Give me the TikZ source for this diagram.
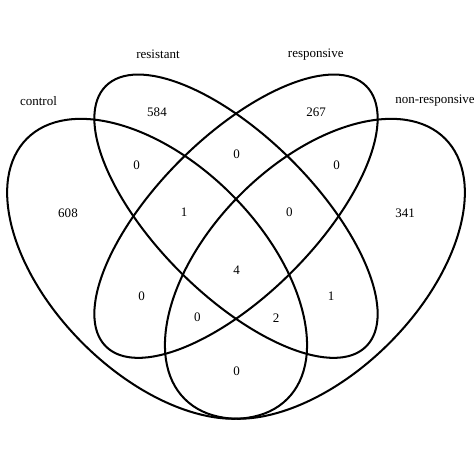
\documentclass[tikz,border=0pt]{standalone}
\usepackage{fontspec}
\setmainfont{Liberation Serif}
\begin{document}
\begin{tikzpicture}[x=0.02cm,y=-0.02cm,
  setline/.style={draw=black,line width=1.15pt},
  lbl/.style={inner sep=0pt,font=\fontsize{7.4}{9}\selectfont},
  cnt/.style={inner sep=0pt,font=\fontsize{7.4}{9}\selectfont}]
\useasboundingbox[fill=white] (0,0) rectangle (474,474);
% ellipses
\coordinate (cC) at (157.1,268.8);
\coordinate (cR) at (236,216.2);
\coordinate (cN) at (314.9,268.8);
\draw[setline, rotate around={-45:(cC)}] (cC) ellipse [x radius=184.1, y radius=105.2];
\draw[setline, rotate around={-45:(cR)}] (cR) ellipse [x radius=184.1, y radius=78.9];
\draw[setline, rotate around={45:(cR)}] (cR) ellipse [x radius=184.1, y radius=78.9];
\draw[setline, rotate around={45:(cN)}] (cN) ellipse [x radius=184.1, y radius=105.2];
% set labels
\node[lbl] (lctrl) at (38.5,100.7) {control};
\node[lbl] (lres) at (158,54.3) {resistant};
\node[lbl] (lresp) at (315.8,54.3) {responsive};
\node[lbl] (lnon) at (435,100.7) {non-responsive};
% counts
\node[cnt] (n608) at (68,213) {608};
\node[cnt] (n584) at (157,112) {584};
\node[cnt] (n267) at (316,112) {267};
\node[cnt] (n341) at (405,213) {341};
\node[cnt] (nCR) at (136.7,165) {0};
\node[cnt] (nRP) at (236.7,154.3) {0};
\node[cnt] (nPN) at (336.7,165) {0};
\node[cnt] (nCRP) at (184,212.3) {1};
\node[cnt] (nRPN) at (289.3,212.3) {0};
\node[cnt] (nAll) at (236.7,270.7) {4};
\node[cnt] (nCP) at (141.7,296.7) {0};
\node[cnt] (nCPN) at (197.3,317.7) {0};
\node[cnt] (nCRN) at (276,317.7) {2};
\node[cnt] (nRN) at (331,296.7) {1};
\node[cnt] (nCN) at (236.7,371) {0};
\end{tikzpicture}
\end{document}
